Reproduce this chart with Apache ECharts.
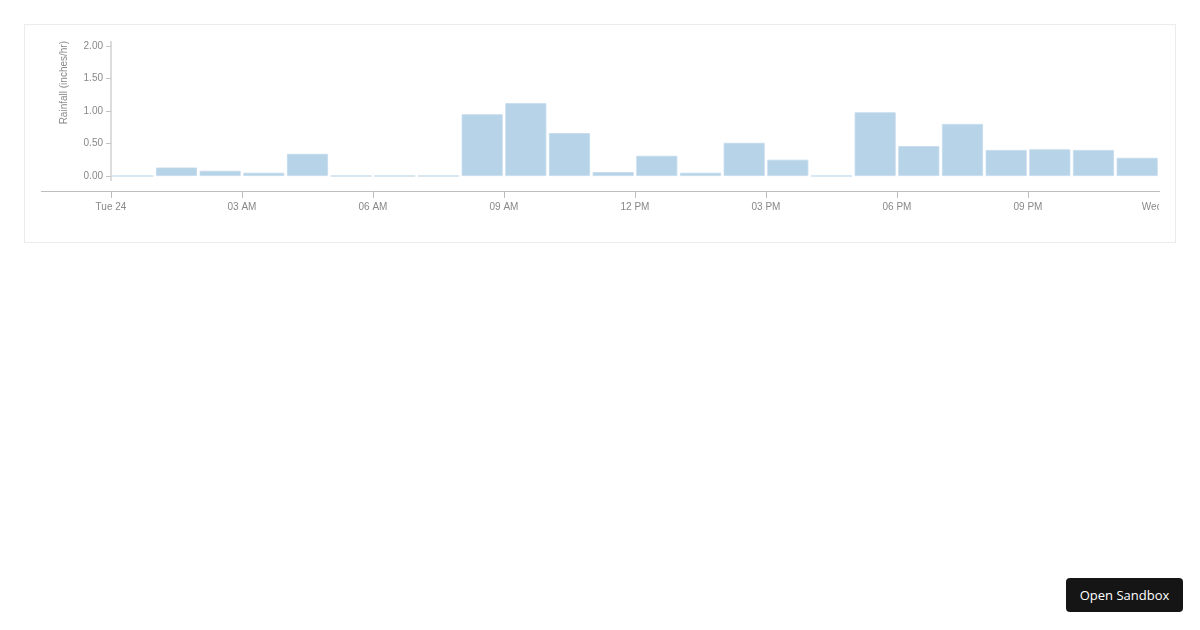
<!DOCTYPE html>
<html>
<head>
<meta charset="utf-8">
<script src="https://cdn.jsdelivr.net/npm/echarts@6/dist/echarts.min.js"></script>
<style>
  html, body { margin: 0; padding: 0; background: #fff; }
  #frame { position: absolute; left: 24px; top: 24px; width: 1150px; height: 217px; border: 1px solid #ececec; z-index: 2; pointer-events: none; }
  #chart { position: absolute; left: 0; top: 0; width: 1200px; height: 630px; }
  #sandbox { position: absolute; left: 1066px; top: 578px; width: 117px; height: 34px; background: #151515; color: #fff;
    border-radius: 4px; font: 13px "Open Sans", sans-serif; line-height: 34px; text-align: center; }
</style>
</head>
<body>
<div id="chart"></div>
<div id="frame"></div>
<div id="sandbox">Open Sandbox</div>
<script>
// hourly rainfall, Tue 24 00:00 -> Wed 25 00:00
const hours = [0, 1, 2, 3, 4, 5, 6, 7, 8, 9, 10, 11, 12, 13, 14, 15, 16, 17, 18, 19, 20, 21, 22, 23];
const rainfall = [0, 0.13, 0.08, 0.05, 0.34, 0, 0, 0, 0.95, 1.12, 0.66, 0.06, 0.31, 0.05, 0.51, 0.25, 0, 0.98, 0.46, 0.80, 0.40, 0.41, 0.40, 0.28];
const tickHours = [0, 3, 6, 9, 12, 15, 18, 21, 24];
const tickLabels = ['Tue 24', '03 AM', '06 AM', '09 AM', '12 PM', '03 PM', '06 PM', '09 PM', 'Wed 25'];
const yTicks = [0, 0.5, 1, 1.5, 2];

const chart = echarts.init(document.getElementById('chart'));
const font = 'Liberation Sans, Arial, sans-serif';

chart.setOption({
  animation: false,
  grid: { left: 111, right: 41, top: 46, height: 130 },
  xAxis: {
    type: 'value',
    min: tickHours[0],
    max: tickHours[tickHours.length - 1],
    interval: 3,
    offset: 15,
    axisLine: { onZero: false, lineStyle: { color: '#bdbdbd', width: 1 } },
    axisTick: { length: 7, lineStyle: { color: '#bdbdbd' } },
    axisLabel: {
      color: '#888', fontSize: 10, fontFamily: font, margin: 11,
      showMaxLabel: true,
      formatter: v => tickLabels[tickHours.indexOf(v)]
    },
    splitLine: { show: false }
  },
  yAxis: {
    type: 'value',
    min: yTicks[0],
    max: yTicks[yTicks.length - 1],
    interval: 0.5,
    axisLine: { show: false },
    axisTick: { show: true, length: 5, lineStyle: { color: '#c4c4c4' } },
    axisLabel: { color: '#888', fontSize: 10, fontFamily: font, margin: 8, formatter: v => v.toFixed(2) },
    splitLine: { show: false }
  },
  series: [{
    type: 'bar',
    barWidth: 41,
    data: hours.map((h, i) => [h + 0.5, rainfall[i]]),
    itemStyle: { color: '#b7d3e7', borderColor: '#c3daec', borderWidth: 0.8 }
  }],
  graphic: [
    // axis domain lines drawn a bit longer than the scale, like the original
    { type: 'line', shape: { x1: 41, y1: 191.5, x2: 111, y2: 191.5 }, style: { stroke: '#bdbdbd', lineWidth: 1 } },
    { type: 'line', shape: { x1: 111, y1: 41, x2: 111, y2: 181 }, style: { stroke: '#d0d0d0', lineWidth: 1.5 } },
    // y axis title
    { type: 'text', x: 64, y: 41, rotation: Math.PI / 2,
      style: { text: 'Rainfall (inches/hr)', fill: '#888', font: '10px ' + font, align: 'right', verticalAlign: 'middle' } },
    // clip last label and tick at plot edge
    { type: 'rect', shape: { x: 1159, y: 192, width: 18, height: 28 }, style: { fill: '#fff' }, z: 100 }
  ]
});
</script>
</body>
</html>
